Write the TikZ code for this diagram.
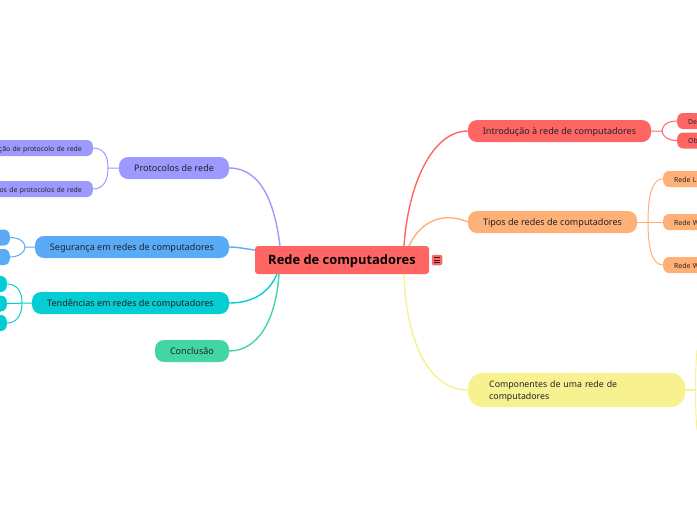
\documentclass[tikz,border=0pt]{standalone}
\usepackage{fontspec}
\setmainfont{Noto Sans}[BoldFont={Open Sans Bold}]
\definecolor{cred}{HTML}{FF6663}
\definecolor{cpur}{HTML}{9E99FF}
\definecolor{cblu}{HTML}{59ABF7}
\definecolor{cteal}{HTML}{06CCD3}
\definecolor{cgrn}{HTML}{43D6A5}
\definecolor{corg}{HTML}{FFB077}
\definecolor{cyel}{HTML}{F7F18F}
\definecolor{ctxt}{HTML}{22222A}
\tikzset{
  rootbox/.style={fill=cred,rounded corners=3pt,inner sep=0pt,minimum width=174pt,minimum height=28pt,text height=10pt,text depth=1.5pt,font=\bfseries\fontsize{12.9}{15}\selectfont,text=black},
  branchbox/.style={rounded corners=9pt,inner sep=0pt,minimum height=22pt,text height=8.5pt,text depth=1.5pt,font=\fontsize{9.05}{12}\selectfont,text=ctxt},
  tallbox/.style={rounded corners=14pt,inner ysep=0pt,inner xsep=21pt,minimum height=34pt,align=left,font=\fontsize{8.8}{12}\selectfont,text=ctxt},
  leafbox/.style={rounded corners=6pt,inner ysep=0pt,inner xsep=11pt,minimum height=16pt,text height=6.6pt,text depth=0.4pt,font=\fontsize{6.9}{8}\selectfont,text=ctxt},
  wire/.style={line width=1.4pt},
  thinwire/.style={line width=1pt}
}
\begin{document}
\begin{tikzpicture}[x=1pt,y=-1pt]
\useasboundingbox (0,0) rectangle (697,520);
\clip (0,0) rectangle (697,520);
% hook points
\coordinate (rp) at (280,246);
\coordinate (rs) at (255,250);
\coordinate (rt) at (277,274);
\coordinate (rc) at (279,274);
\coordinate (ri) at (404,246);
\coordinate (ro) at (409,246);
\coordinate (ry) at (404,274);
\coordinate (hp) at (108,168);
\coordinate (hs) at (25,247);
\coordinate (ht) at (22,303);
\coordinate (hi) at (662,131);
\coordinate (ho) at (648,222);
\coordinate (hy) at (696,390);
\coordinate (yt) at (697,350);
\coordinate (yb) at (697,430);
% nodes
\node[rootbox] (root) at (342,260) {Rede de computadores};
\node[branchbox,fill=cred,minimum width=183pt] (intro) at (559.5,131) {Introdução à rede de computadores};
\node[branchbox,fill=corg,minimum width=169pt] (tipos) at (552.5,222) {Tipos de redes de computadores};
\node[tallbox,fill=cyel,text width=175pt,anchor=west] (comp) at (468,390) {\rule{0pt}{9pt}Componentes de uma rede de\\computadores};
\node[branchbox,fill=cpur,minimum width=110pt] (prot) at (174,168) {Protocolos de rede};
\node[branchbox,fill=cblu,minimum width=194pt] (seg) at (132,247) {Segurança em redes de computadores};
\node[branchbox,fill=cteal,minimum width=197pt] (tend) at (130.5,303) {Tendências em redes de computadores};
\node[branchbox,fill=cgrn,minimum width=74pt] (conc) at (192,351) {Conclusão};
% clipped leaves
\node[leafbox,fill=cred,anchor=west,text width=40pt,align=left] (lde) at (677,121) {De};
\node[leafbox,fill=cred,anchor=west,text width=40pt,align=left] (lob) at (677,140.5) {Ob};
\node[leafbox,fill=corg,anchor=west,text width=40pt,align=left] (lla) at (663,179) {Rede L};
\node[leafbox,fill=corg,anchor=west,text width=40pt,align=left] (lw1) at (663,222) {Rede W};
\node[leafbox,fill=corg,anchor=west,text width=40pt,align=left] (lw2) at (663,265) {Rede W};
\node[leafbox,fill=cpur,anchor=east,text width=100pt,align=right] (pk1) at (93,148) {ção de protocolo de rede};
\node[leafbox,fill=cpur,anchor=east,text width=100pt,align=right] (pk2) at (93,189) {os de protocolos de rede};
\node[leafbox,fill=cblu,anchor=east,minimum width=40pt] (sk1) at (10,237.5) {};
\node[leafbox,fill=cblu,anchor=east,minimum width=40pt] (sk2) at (10,257) {};
\node[leafbox,fill=cteal,anchor=east,minimum width=40pt] (tk1) at (7,284) {};
\node[leafbox,fill=cteal,anchor=east,minimum width=40pt] (tk2) at (7,303.5) {};
\node[leafbox,fill=cteal,anchor=east,minimum width=40pt] (tk3) at (7,323) {};
% menu icon
\node[fill=cred,rounded corners=2pt,minimum size=10.5pt,inner sep=0pt] (menu) at (437,260) {};
\draw[line width=0.7pt,ctxt] (433.8,257.6) -- (440.2,257.6) (433.8,260) -- (440.2,260) (433.8,262.4) -- (440.2,262.4);
% main connectors
\draw[wire,cpur] (prot.east) .. controls (262,168) and (275,205) .. (rp);
\draw[wire,cblu] (seg.east) .. controls (238,247) and (246,249) .. (rs);
\draw[wire,cteal] (tend.east) .. controls (250,303) and (268,295) .. (rt);
\draw[wire,cgrn] (conc.east) .. controls (258,351) and (276,320) .. (rc);
\draw[wire,cred] (intro.west) .. controls (432,131) and (408,185) .. (ri);
\draw[wire,corg] (tipos.west) .. controls (442,211) and (420,222) .. (ro);
\draw[wire,cyel] (comp.west) .. controls (428,390) and (406,340) .. (ry);
% sub connectors
\draw[thinwire,cpur] (prot.west) -- (hp) .. controls (108,155) and (103,148) .. (pk1.east);
\draw[thinwire,cpur] (hp) .. controls (108,181) and (103,189) .. (pk2.east);
\draw[thinwire,cblu] (seg.west) -- (hs) .. controls (25,241) and (18,237.5) .. (sk1.east);
\draw[thinwire,cblu] (hs) .. controls (25,253) and (18,257) .. (sk2.east);
\draw[thinwire,cteal] (tend.west) -- (tk2.east);
\draw[thinwire,cteal] (ht) .. controls (22,290) and (16,284) .. (tk1.east);
\draw[thinwire,cteal] (ht) .. controls (22,316) and (16,323) .. (tk3.east);
\draw[thinwire,cred] (intro.east) -- (hi) .. controls (662,125) and (668,121) .. (lde.west);
\draw[thinwire,cred] (hi) .. controls (662,136) and (668,140.5) .. (lob.west);
\draw[thinwire,corg] (tipos.east) -- (lw1.west);
\draw[thinwire,corg] (ho) .. controls (648,195) and (652,179) .. (lla.west);
\draw[thinwire,corg] (ho) .. controls (648,248) and (652,265) .. (lw2.west);
\draw[wire,cyel] (comp.east) -- (hy);
\draw[thinwire,cyel] (yt) .. controls (695,370) and (695,410) .. (yb);
\end{tikzpicture}
\end{document}
